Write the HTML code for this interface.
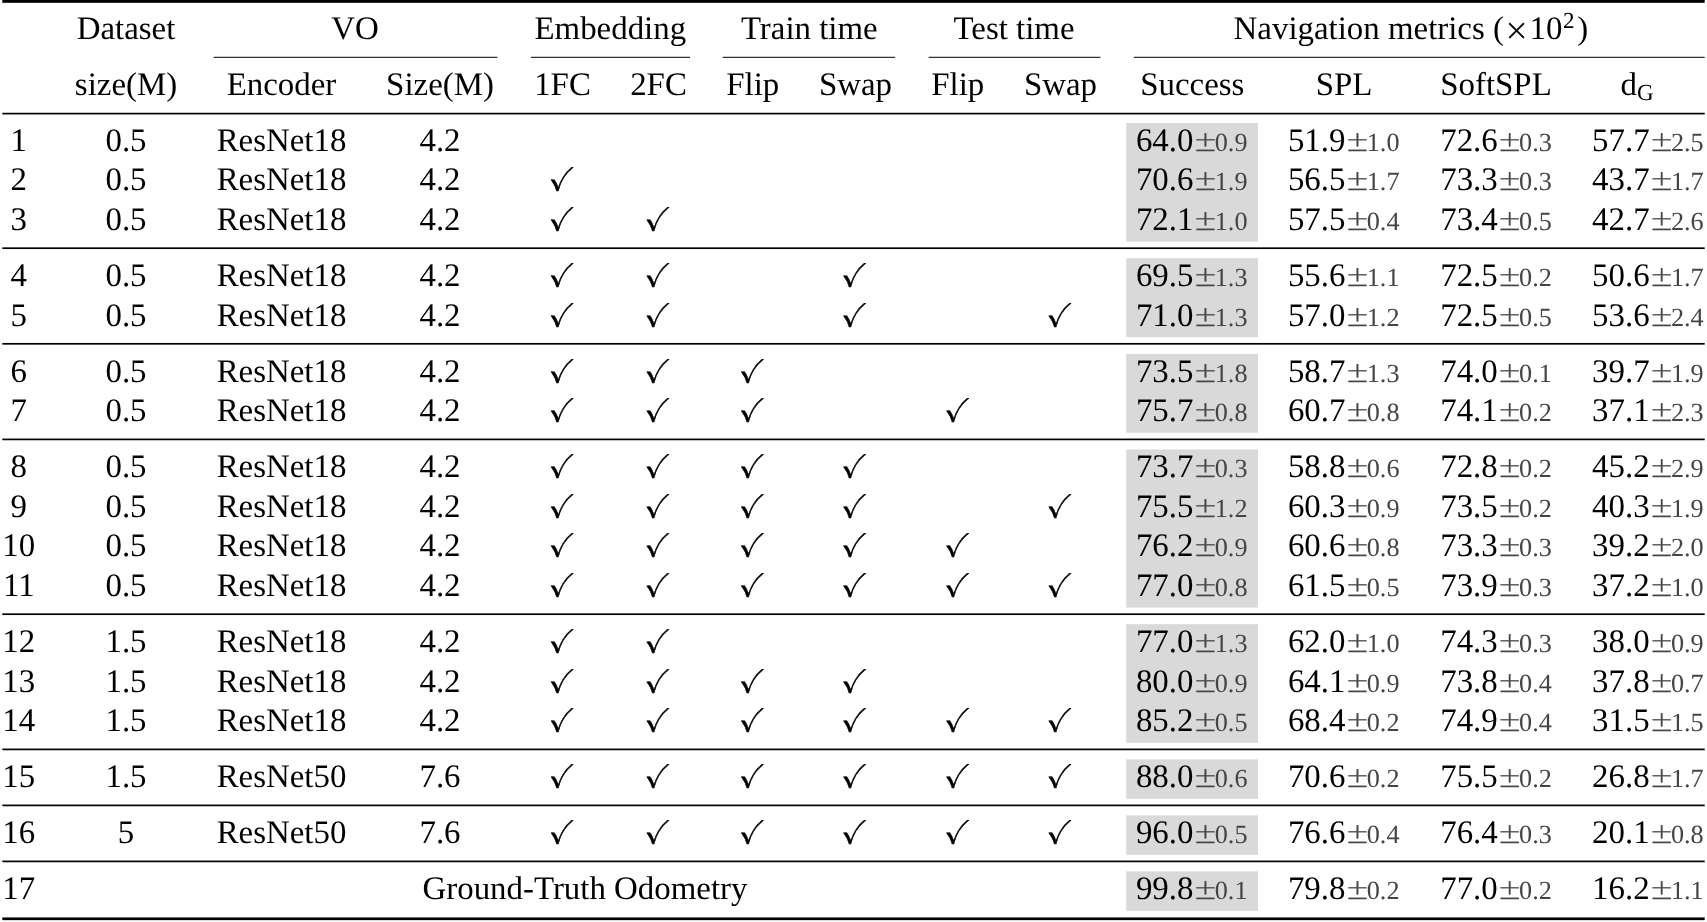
<!DOCTYPE html>
<html lang="en"><head><meta charset="utf-8"><title>Table</title>
<style>
html,body{margin:0;padding:0;background:#fff;}
svg{display:block;will-change:transform;transform:translateZ(0);}
text{font-family:"Liberation Serif",serif;font-size:32.9px;fill:#000;text-rendering:geometricPrecision;}
.c{text-anchor:middle;}
.s{font-size:26.2px;fill:#444;}
.pm{font-family:"DejaVu Sans Light","DejaVu Sans",sans-serif;font-weight:200;font-size:28.5px;fill:#444;stroke:#444;stroke-width:0.35px;}
.sub{font-size:23.0px;}
.ck{font-family:"DejaVu Math TeX Gyre","DejaVu Sans",sans-serif;font-size:34.2px;stroke:#000;stroke-width:0.55px;stroke-linejoin:round;}
</style></head><body>
<svg width="1707" height="922" viewBox="0 0 1707 922">
<rect x="1126.2" y="123.0" width="131.8" height="118.6" fill="#d9d9d9"/>
<rect x="1126.2" y="258.2" width="131.8" height="79.0" fill="#d9d9d9"/>
<rect x="1126.2" y="353.8" width="131.8" height="79.0" fill="#d9d9d9"/>
<rect x="1126.2" y="449.4" width="131.8" height="158.2" fill="#d9d9d9"/>
<rect x="1126.2" y="624.2" width="131.8" height="118.6" fill="#d9d9d9"/>
<rect x="1126.2" y="759.4" width="131.8" height="39.4" fill="#d9d9d9"/>
<rect x="1126.2" y="815.4" width="131.8" height="39.4" fill="#d9d9d9"/>
<rect x="1126.2" y="871.4" width="131.8" height="39.4" fill="#d9d9d9"/>
<rect x="2.3" y="0.00" width="1702.4" height="2.80" fill="#000"/>
<rect x="2.3" y="917.45" width="1702.4" height="2.70" fill="#000"/>
<rect x="2.3" y="112.75" width="1702.4" height="1.70" fill="#000"/>
<rect x="2.3" y="247.35" width="1702.4" height="1.70" fill="#000"/>
<rect x="2.3" y="342.95" width="1702.4" height="1.70" fill="#000"/>
<rect x="2.3" y="438.55" width="1702.4" height="1.70" fill="#000"/>
<rect x="2.3" y="613.35" width="1702.4" height="1.70" fill="#000"/>
<rect x="2.3" y="748.55" width="1702.4" height="1.70" fill="#000"/>
<rect x="2.3" y="804.55" width="1702.4" height="1.70" fill="#000"/>
<rect x="2.3" y="860.55" width="1702.4" height="1.70" fill="#000"/>
<rect x="213.7" y="56.80" width="283.7" height="1.00" fill="#000"/>
<rect x="530.9" y="56.80" width="159.1" height="1.00" fill="#000"/>
<rect x="722.7" y="56.80" width="172.5" height="1.00" fill="#000"/>
<rect x="928.6" y="56.80" width="171.8" height="1.00" fill="#000"/>
<rect x="1133.8" y="56.80" width="570.9" height="1.00" fill="#000"/>
<text class="c" x="126.0" y="39.4">Dataset</text>
<text class="c" x="355.0" y="39.4">VO</text>
<text class="c" x="610.3" y="39.4">Embedding</text>
<text class="c" x="809.3" y="39.4">Train time</text>
<text class="c" x="1014.0" y="39.4">Test time</text>
<text x="1233.6" y="39.4">Navigation metrics (<tspan class="pm" style="fill:#000;stroke:#000;stroke-width:0.3px;font-size:30px" dy="0.8">×</tspan><tspan dx="0.5" dy="-0.8">10</tspan><tspan class="sub" dx="0.5" dy="-11.5">2</tspan><tspan dx="2.8" dy="11.5">)</tspan></text>
<text class="c" x="126.0" y="94.7">size(M)</text>
<text class="c" x="281.5" y="94.7">Encoder</text>
<text class="c" x="440.0" y="94.7">Size(M)</text>
<text class="c" x="562.5" y="94.7">1FC</text>
<text class="c" x="658.5" y="94.7">2FC</text>
<text class="c" x="752.8" y="94.7">Flip</text>
<text class="c" x="855.5" y="94.7">Swap</text>
<text class="c" x="957.8" y="94.7">Flip</text>
<text class="c" x="1060.5" y="94.7">Swap</text>
<text class="c" x="1192.3" y="94.7">Success</text>
<text class="c" x="1344.0" y="94.7">SPL</text>
<text class="c" x="1496.0" y="94.7">SoftSPL</text>
<text class="c" x="1637.0" y="94.7">d<tspan class="sub" dy="5.2">G</tspan></text>
<text class="c" x="18.8" y="150.7">1</text>
<text class="c" x="126.0" y="150.7">0.5</text>
<text class="c" x="281.5" y="150.7">ResNet18</text>
<text class="c" x="440.0" y="150.7">4.2</text>
<text class="l" x="1135.9" y="150.7">64.0<tspan class="pm">±</tspan><tspan class="s" dx="-2.6">0.9</tspan></text>
<text class="l" x="1287.9" y="150.7">51.9<tspan class="pm">±</tspan><tspan class="s" dx="-2.6">1.0</tspan></text>
<text class="l" x="1440.2" y="150.7">72.6<tspan class="pm">±</tspan><tspan class="s" dx="-2.6">0.3</tspan></text>
<text class="l" x="1592.1" y="150.7">57.7<tspan class="pm">±</tspan><tspan class="s" dx="-2.6">2.5</tspan></text>
<text class="c" x="18.8" y="190.3">2</text>
<text class="c" x="126.0" y="190.3">0.5</text>
<text class="c" x="281.5" y="190.3">ResNet18</text>
<text class="c" x="440.0" y="190.3">4.2</text>
<text class="ck" transform="translate(548.5,191.3) scale(0.924,1)">✓</text>
<text class="l" x="1135.9" y="190.3">70.6<tspan class="pm">±</tspan><tspan class="s" dx="-2.6">1.9</tspan></text>
<text class="l" x="1287.9" y="190.3">56.5<tspan class="pm">±</tspan><tspan class="s" dx="-2.6">1.7</tspan></text>
<text class="l" x="1440.2" y="190.3">73.3<tspan class="pm">±</tspan><tspan class="s" dx="-2.6">0.3</tspan></text>
<text class="l" x="1592.1" y="190.3">43.7<tspan class="pm">±</tspan><tspan class="s" dx="-2.6">1.7</tspan></text>
<text class="c" x="18.8" y="229.9">3</text>
<text class="c" x="126.0" y="229.9">0.5</text>
<text class="c" x="281.5" y="229.9">ResNet18</text>
<text class="c" x="440.0" y="229.9">4.2</text>
<text class="ck" transform="translate(548.5,230.9) scale(0.924,1)">✓</text>
<text class="ck" transform="translate(644.3,230.9) scale(0.924,1)">✓</text>
<text class="l" x="1135.9" y="229.9">72.1<tspan class="pm">±</tspan><tspan class="s" dx="-2.6">1.0</tspan></text>
<text class="l" x="1287.9" y="229.9">57.5<tspan class="pm">±</tspan><tspan class="s" dx="-2.6">0.4</tspan></text>
<text class="l" x="1440.2" y="229.9">73.4<tspan class="pm">±</tspan><tspan class="s" dx="-2.6">0.5</tspan></text>
<text class="l" x="1592.1" y="229.9">42.7<tspan class="pm">±</tspan><tspan class="s" dx="-2.6">2.6</tspan></text>
<text class="c" x="18.8" y="285.9">4</text>
<text class="c" x="126.0" y="285.9">0.5</text>
<text class="c" x="281.5" y="285.9">ResNet18</text>
<text class="c" x="440.0" y="285.9">4.2</text>
<text class="ck" transform="translate(548.5,286.9) scale(0.924,1)">✓</text>
<text class="ck" transform="translate(644.3,286.9) scale(0.924,1)">✓</text>
<text class="ck" transform="translate(841.1,286.9) scale(0.924,1)">✓</text>
<text class="l" x="1135.9" y="285.9">69.5<tspan class="pm">±</tspan><tspan class="s" dx="-2.6">1.3</tspan></text>
<text class="l" x="1287.9" y="285.9">55.6<tspan class="pm">±</tspan><tspan class="s" dx="-2.6">1.1</tspan></text>
<text class="l" x="1440.2" y="285.9">72.5<tspan class="pm">±</tspan><tspan class="s" dx="-2.6">0.2</tspan></text>
<text class="l" x="1592.1" y="285.9">50.6<tspan class="pm">±</tspan><tspan class="s" dx="-2.6">1.7</tspan></text>
<text class="c" x="18.8" y="325.5">5</text>
<text class="c" x="126.0" y="325.5">0.5</text>
<text class="c" x="281.5" y="325.5">ResNet18</text>
<text class="c" x="440.0" y="325.5">4.2</text>
<text class="ck" transform="translate(548.5,326.6) scale(0.924,1)">✓</text>
<text class="ck" transform="translate(644.3,326.6) scale(0.924,1)">✓</text>
<text class="ck" transform="translate(841.1,326.6) scale(0.924,1)">✓</text>
<text class="ck" transform="translate(1046.3,326.6) scale(0.924,1)">✓</text>
<text class="l" x="1135.9" y="325.5">71.0<tspan class="pm">±</tspan><tspan class="s" dx="-2.6">1.3</tspan></text>
<text class="l" x="1287.9" y="325.5">57.0<tspan class="pm">±</tspan><tspan class="s" dx="-2.6">1.2</tspan></text>
<text class="l" x="1440.2" y="325.5">72.5<tspan class="pm">±</tspan><tspan class="s" dx="-2.6">0.5</tspan></text>
<text class="l" x="1592.1" y="325.5">53.6<tspan class="pm">±</tspan><tspan class="s" dx="-2.6">2.4</tspan></text>
<text class="c" x="18.8" y="381.5">6</text>
<text class="c" x="126.0" y="381.5">0.5</text>
<text class="c" x="281.5" y="381.5">ResNet18</text>
<text class="c" x="440.0" y="381.5">4.2</text>
<text class="ck" transform="translate(548.5,382.6) scale(0.924,1)">✓</text>
<text class="ck" transform="translate(644.3,382.6) scale(0.924,1)">✓</text>
<text class="ck" transform="translate(738.8,382.6) scale(0.924,1)">✓</text>
<text class="l" x="1135.9" y="381.5">73.5<tspan class="pm">±</tspan><tspan class="s" dx="-2.6">1.8</tspan></text>
<text class="l" x="1287.9" y="381.5">58.7<tspan class="pm">±</tspan><tspan class="s" dx="-2.6">1.3</tspan></text>
<text class="l" x="1440.2" y="381.5">74.0<tspan class="pm">±</tspan><tspan class="s" dx="-2.6">0.1</tspan></text>
<text class="l" x="1592.1" y="381.5">39.7<tspan class="pm">±</tspan><tspan class="s" dx="-2.6">1.9</tspan></text>
<text class="c" x="18.8" y="421.1">7</text>
<text class="c" x="126.0" y="421.1">0.5</text>
<text class="c" x="281.5" y="421.1">ResNet18</text>
<text class="c" x="440.0" y="421.1">4.2</text>
<text class="ck" transform="translate(548.5,422.2) scale(0.924,1)">✓</text>
<text class="ck" transform="translate(644.3,422.2) scale(0.924,1)">✓</text>
<text class="ck" transform="translate(738.8,422.2) scale(0.924,1)">✓</text>
<text class="ck" transform="translate(943.9,422.2) scale(0.924,1)">✓</text>
<text class="l" x="1135.9" y="421.1">75.7<tspan class="pm">±</tspan><tspan class="s" dx="-2.6">0.8</tspan></text>
<text class="l" x="1287.9" y="421.1">60.7<tspan class="pm">±</tspan><tspan class="s" dx="-2.6">0.8</tspan></text>
<text class="l" x="1440.2" y="421.1">74.1<tspan class="pm">±</tspan><tspan class="s" dx="-2.6">0.2</tspan></text>
<text class="l" x="1592.1" y="421.1">37.1<tspan class="pm">±</tspan><tspan class="s" dx="-2.6">2.3</tspan></text>
<text class="c" x="18.8" y="477.1">8</text>
<text class="c" x="126.0" y="477.1">0.5</text>
<text class="c" x="281.5" y="477.1">ResNet18</text>
<text class="c" x="440.0" y="477.1">4.2</text>
<text class="ck" transform="translate(548.5,478.2) scale(0.924,1)">✓</text>
<text class="ck" transform="translate(644.3,478.2) scale(0.924,1)">✓</text>
<text class="ck" transform="translate(738.8,478.2) scale(0.924,1)">✓</text>
<text class="ck" transform="translate(841.1,478.2) scale(0.924,1)">✓</text>
<text class="l" x="1135.9" y="477.1">73.7<tspan class="pm">±</tspan><tspan class="s" dx="-2.6">0.3</tspan></text>
<text class="l" x="1287.9" y="477.1">58.8<tspan class="pm">±</tspan><tspan class="s" dx="-2.6">0.6</tspan></text>
<text class="l" x="1440.2" y="477.1">72.8<tspan class="pm">±</tspan><tspan class="s" dx="-2.6">0.2</tspan></text>
<text class="l" x="1592.1" y="477.1">45.2<tspan class="pm">±</tspan><tspan class="s" dx="-2.6">2.9</tspan></text>
<text class="c" x="18.8" y="516.7">9</text>
<text class="c" x="126.0" y="516.7">0.5</text>
<text class="c" x="281.5" y="516.7">ResNet18</text>
<text class="c" x="440.0" y="516.7">4.2</text>
<text class="ck" transform="translate(548.5,517.8) scale(0.924,1)">✓</text>
<text class="ck" transform="translate(644.3,517.8) scale(0.924,1)">✓</text>
<text class="ck" transform="translate(738.8,517.8) scale(0.924,1)">✓</text>
<text class="ck" transform="translate(841.1,517.8) scale(0.924,1)">✓</text>
<text class="ck" transform="translate(1046.3,517.8) scale(0.924,1)">✓</text>
<text class="l" x="1135.9" y="516.7">75.5<tspan class="pm">±</tspan><tspan class="s" dx="-2.6">1.2</tspan></text>
<text class="l" x="1287.9" y="516.7">60.3<tspan class="pm">±</tspan><tspan class="s" dx="-2.6">0.9</tspan></text>
<text class="l" x="1440.2" y="516.7">73.5<tspan class="pm">±</tspan><tspan class="s" dx="-2.6">0.2</tspan></text>
<text class="l" x="1592.1" y="516.7">40.3<tspan class="pm">±</tspan><tspan class="s" dx="-2.6">1.9</tspan></text>
<text class="c" x="18.8" y="556.3">10</text>
<text class="c" x="126.0" y="556.3">0.5</text>
<text class="c" x="281.5" y="556.3">ResNet18</text>
<text class="c" x="440.0" y="556.3">4.2</text>
<text class="ck" transform="translate(548.5,557.4) scale(0.924,1)">✓</text>
<text class="ck" transform="translate(644.3,557.4) scale(0.924,1)">✓</text>
<text class="ck" transform="translate(738.8,557.4) scale(0.924,1)">✓</text>
<text class="ck" transform="translate(841.1,557.4) scale(0.924,1)">✓</text>
<text class="ck" transform="translate(943.9,557.4) scale(0.924,1)">✓</text>
<text class="l" x="1135.9" y="556.3">76.2<tspan class="pm">±</tspan><tspan class="s" dx="-2.6">0.9</tspan></text>
<text class="l" x="1287.9" y="556.3">60.6<tspan class="pm">±</tspan><tspan class="s" dx="-2.6">0.8</tspan></text>
<text class="l" x="1440.2" y="556.3">73.3<tspan class="pm">±</tspan><tspan class="s" dx="-2.6">0.3</tspan></text>
<text class="l" x="1592.1" y="556.3">39.2<tspan class="pm">±</tspan><tspan class="s" dx="-2.6">2.0</tspan></text>
<text class="c" x="18.8" y="595.9">11</text>
<text class="c" x="126.0" y="595.9">0.5</text>
<text class="c" x="281.5" y="595.9">ResNet18</text>
<text class="c" x="440.0" y="595.9">4.2</text>
<text class="ck" transform="translate(548.5,597.0) scale(0.924,1)">✓</text>
<text class="ck" transform="translate(644.3,597.0) scale(0.924,1)">✓</text>
<text class="ck" transform="translate(738.8,597.0) scale(0.924,1)">✓</text>
<text class="ck" transform="translate(841.1,597.0) scale(0.924,1)">✓</text>
<text class="ck" transform="translate(943.9,597.0) scale(0.924,1)">✓</text>
<text class="ck" transform="translate(1046.3,597.0) scale(0.924,1)">✓</text>
<text class="l" x="1135.9" y="595.9">77.0<tspan class="pm">±</tspan><tspan class="s" dx="-2.6">0.8</tspan></text>
<text class="l" x="1287.9" y="595.9">61.5<tspan class="pm">±</tspan><tspan class="s" dx="-2.6">0.5</tspan></text>
<text class="l" x="1440.2" y="595.9">73.9<tspan class="pm">±</tspan><tspan class="s" dx="-2.6">0.3</tspan></text>
<text class="l" x="1592.1" y="595.9">37.2<tspan class="pm">±</tspan><tspan class="s" dx="-2.6">1.0</tspan></text>
<text class="c" x="18.8" y="651.9">12</text>
<text class="c" x="126.0" y="651.9">1.5</text>
<text class="c" x="281.5" y="651.9">ResNet18</text>
<text class="c" x="440.0" y="651.9">4.2</text>
<text class="ck" transform="translate(548.5,653.0) scale(0.924,1)">✓</text>
<text class="ck" transform="translate(644.3,653.0) scale(0.924,1)">✓</text>
<text class="l" x="1135.9" y="651.9">77.0<tspan class="pm">±</tspan><tspan class="s" dx="-2.6">1.3</tspan></text>
<text class="l" x="1287.9" y="651.9">62.0<tspan class="pm">±</tspan><tspan class="s" dx="-2.6">1.0</tspan></text>
<text class="l" x="1440.2" y="651.9">74.3<tspan class="pm">±</tspan><tspan class="s" dx="-2.6">0.3</tspan></text>
<text class="l" x="1592.1" y="651.9">38.0<tspan class="pm">±</tspan><tspan class="s" dx="-2.6">0.9</tspan></text>
<text class="c" x="18.8" y="691.5">13</text>
<text class="c" x="126.0" y="691.5">1.5</text>
<text class="c" x="281.5" y="691.5">ResNet18</text>
<text class="c" x="440.0" y="691.5">4.2</text>
<text class="ck" transform="translate(548.5,692.6) scale(0.924,1)">✓</text>
<text class="ck" transform="translate(644.3,692.6) scale(0.924,1)">✓</text>
<text class="ck" transform="translate(738.8,692.6) scale(0.924,1)">✓</text>
<text class="ck" transform="translate(841.1,692.6) scale(0.924,1)">✓</text>
<text class="l" x="1135.9" y="691.5">80.0<tspan class="pm">±</tspan><tspan class="s" dx="-2.6">0.9</tspan></text>
<text class="l" x="1287.9" y="691.5">64.1<tspan class="pm">±</tspan><tspan class="s" dx="-2.6">0.9</tspan></text>
<text class="l" x="1440.2" y="691.5">73.8<tspan class="pm">±</tspan><tspan class="s" dx="-2.6">0.4</tspan></text>
<text class="l" x="1592.1" y="691.5">37.8<tspan class="pm">±</tspan><tspan class="s" dx="-2.6">0.7</tspan></text>
<text class="c" x="18.8" y="731.1">14</text>
<text class="c" x="126.0" y="731.1">1.5</text>
<text class="c" x="281.5" y="731.1">ResNet18</text>
<text class="c" x="440.0" y="731.1">4.2</text>
<text class="ck" transform="translate(548.5,732.2) scale(0.924,1)">✓</text>
<text class="ck" transform="translate(644.3,732.2) scale(0.924,1)">✓</text>
<text class="ck" transform="translate(738.8,732.2) scale(0.924,1)">✓</text>
<text class="ck" transform="translate(841.1,732.2) scale(0.924,1)">✓</text>
<text class="ck" transform="translate(943.9,732.2) scale(0.924,1)">✓</text>
<text class="ck" transform="translate(1046.3,732.2) scale(0.924,1)">✓</text>
<text class="l" x="1135.9" y="731.1">85.2<tspan class="pm">±</tspan><tspan class="s" dx="-2.6">0.5</tspan></text>
<text class="l" x="1287.9" y="731.1">68.4<tspan class="pm">±</tspan><tspan class="s" dx="-2.6">0.2</tspan></text>
<text class="l" x="1440.2" y="731.1">74.9<tspan class="pm">±</tspan><tspan class="s" dx="-2.6">0.4</tspan></text>
<text class="l" x="1592.1" y="731.1">31.5<tspan class="pm">±</tspan><tspan class="s" dx="-2.6">1.5</tspan></text>
<text class="c" x="18.8" y="787.1">15</text>
<text class="c" x="126.0" y="787.1">1.5</text>
<text class="c" x="281.5" y="787.1">ResNet50</text>
<text class="c" x="440.0" y="787.1">7.6</text>
<text class="ck" transform="translate(548.5,788.2) scale(0.924,1)">✓</text>
<text class="ck" transform="translate(644.3,788.2) scale(0.924,1)">✓</text>
<text class="ck" transform="translate(738.8,788.2) scale(0.924,1)">✓</text>
<text class="ck" transform="translate(841.1,788.2) scale(0.924,1)">✓</text>
<text class="ck" transform="translate(943.9,788.2) scale(0.924,1)">✓</text>
<text class="ck" transform="translate(1046.3,788.2) scale(0.924,1)">✓</text>
<text class="l" x="1135.9" y="787.1">88.0<tspan class="pm">±</tspan><tspan class="s" dx="-2.6">0.6</tspan></text>
<text class="l" x="1287.9" y="787.1">70.6<tspan class="pm">±</tspan><tspan class="s" dx="-2.6">0.2</tspan></text>
<text class="l" x="1440.2" y="787.1">75.5<tspan class="pm">±</tspan><tspan class="s" dx="-2.6">0.2</tspan></text>
<text class="l" x="1592.1" y="787.1">26.8<tspan class="pm">±</tspan><tspan class="s" dx="-2.6">1.7</tspan></text>
<text class="c" x="18.8" y="843.1">16</text>
<text class="c" x="126.0" y="843.1">5</text>
<text class="c" x="281.5" y="843.1">ResNet50</text>
<text class="c" x="440.0" y="843.1">7.6</text>
<text class="ck" transform="translate(548.5,844.2) scale(0.924,1)">✓</text>
<text class="ck" transform="translate(644.3,844.2) scale(0.924,1)">✓</text>
<text class="ck" transform="translate(738.8,844.2) scale(0.924,1)">✓</text>
<text class="ck" transform="translate(841.1,844.2) scale(0.924,1)">✓</text>
<text class="ck" transform="translate(943.9,844.2) scale(0.924,1)">✓</text>
<text class="ck" transform="translate(1046.3,844.2) scale(0.924,1)">✓</text>
<text class="l" x="1135.9" y="843.1">96.0<tspan class="pm">±</tspan><tspan class="s" dx="-2.6">0.5</tspan></text>
<text class="l" x="1287.9" y="843.1">76.6<tspan class="pm">±</tspan><tspan class="s" dx="-2.6">0.4</tspan></text>
<text class="l" x="1440.2" y="843.1">76.4<tspan class="pm">±</tspan><tspan class="s" dx="-2.6">0.3</tspan></text>
<text class="l" x="1592.1" y="843.1">20.1<tspan class="pm">±</tspan><tspan class="s" dx="-2.6">0.8</tspan></text>
<text class="c" x="18.8" y="899.1">17</text>
<text class="c" x="585.0" y="899.1">Ground-Truth Odometry</text>
<text class="l" x="1135.9" y="899.1">99.8<tspan class="pm">±</tspan><tspan class="s" dx="-2.6">0.1</tspan></text>
<text class="l" x="1287.9" y="899.1">79.8<tspan class="pm">±</tspan><tspan class="s" dx="-2.6">0.2</tspan></text>
<text class="l" x="1440.2" y="899.1">77.0<tspan class="pm">±</tspan><tspan class="s" dx="-2.6">0.2</tspan></text>
<text class="l" x="1592.1" y="899.1">16.2<tspan class="pm">±</tspan><tspan class="s" dx="-2.6">1.1</tspan></text>
</svg>
</body></html>
